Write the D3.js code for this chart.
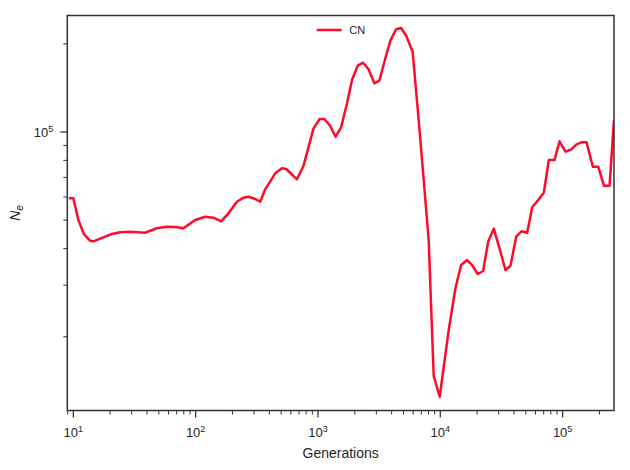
<!DOCTYPE html>
<html lang="en">
<head>
  <meta charset="UTF-8">
  <title>Ne over generations</title>
  <script src="https://d3js.org/d3.v7.min.js"></script>
  <style>
    body { margin: 0; background: #fff; }
    text { font-family: "Liberation Sans", Arial, sans-serif; fill: #262626; }
  </style>
</head>
<body>
  <div id="chart"></div>

  <script>
    // generations (x) and effective population size (y)
    const generations = [9.2, 10, 11.0, 12.2, 13.7, 14.6, 17.6, 20.6, 24.1, 29.1, 38.6, 48.1, 58.1, 68.0, 79.5,
      99.1, 119.6, 139.9, 161.7, 185.5, 217.4, 246.1, 270.5, 306.9, 337.2, 370.6, 447.3, 507.6, 550.4, 673.2,
      762.4, 920.4, 1031, 1126, 1261, 1393, 1543, 1728, 1898, 2110, 2335, 2595, 2889, 3176, 3554,
      3907, 4347, 4778, 5279, 5943, 6656, 7317, 8035, 8831, 9888, 11720, 13290, 14800, 16570, 18200,
      20240, 22400, 24610, 27350, 30630, 34100, 37470, 41730, 46100, 51320, 56390, 63150, 70200, 77120, 85860,
      94340, 105600, 117600, 129900, 142800, 156900, 176700, 195600, 217400, 241900, 263000];
    const neCN = [59400, 59400, 50100, 44860, 42560, 42360, 43720, 44860, 45460, 45670, 45310, 46930, 47520, 47410, 46930,
      50100, 51400, 51000, 49580, 52780, 57830, 59690, 60150, 59070, 57830, 63740, 72280, 75180, 74770, 68970,
      76740, 102950, 110770, 110770, 104830, 96370, 103440, 125300, 150500, 168400, 172400, 163700, 146600, 149600, 178500,
      205000, 224100, 226500, 212700, 188000, 109900, 68590, 42800, 14700, 12490, 21100, 29280, 35160, 36570, 35160,
      32760, 33550, 42240, 46770, 39780, 33810, 34970, 43930, 45830, 45310, 55340, 58610, 62070, 80250, 80250,
      92950, 85670, 87300, 90780, 92220, 92220, 76130, 76130, 65580, 65580, 109900];

    const xDomain = [8.93, 2.63e5];
    const yDomain = [11210, 249800];
    const xMajor = [10, 100, 1000, 10000, 100000];
    const xMajorExp = ["1", "2", "3", "4", "5"];
    const yMajor = [100000];
    const yMajorExp = ["5"];

    const margin = {top: 15.5, right: 16, bottom: 59.5, left: 67.3},
          width = 630 - margin.left - margin.right,
          height = 470 - margin.top - margin.bottom;

    const svg = d3.select("#chart")
                  .append("svg")
                  .attr("width", 630)
                  .attr("height", 470)
                  .append("g")
                  .attr("transform", `translate(${margin.left},${margin.top})`);

    const x = d3.scaleLog().domain(xDomain).range([0, width]);
    const y = d3.scaleLog().domain(yDomain).range([height, 0]);

    // minor ticks: 2..9 of every decade within the domain
    const minorTicks = (dom) => {
      const out = [];
      for (let p = Math.floor(Math.log10(dom[0])); p <= Math.ceil(Math.log10(dom[1])); p++) {
        for (let k = 2; k <= 9; k++) {
          const v = k * Math.pow(10, p);
          if (v >= dom[0] && v <= dom[1]) out.push(v);
        }
      }
      return out;
    };

    const tickColor = "#333";

    // x axis ticks
    const xAxisG = svg.append("g").attr("transform", `translate(0,${height})`);
    xAxisG.selectAll(".xminor").data(minorTicks(xDomain)).enter().append("line")
      .attr("x1", d => x(d)).attr("x2", d => x(d))
      .attr("y1", 0).attr("y2", 4)
      .attr("stroke", tickColor).attr("stroke-width", 1);
    xAxisG.selectAll(".xmajor").data(xMajor).enter().append("line")
      .attr("x1", d => x(d)).attr("x2", d => x(d))
      .attr("y1", 0).attr("y2", 7)
      .attr("stroke", tickColor).attr("stroke-width", 1.25);
    const xLab = xAxisG.selectAll(".xlab").data(xMajor).enter().append("text")
      .attr("x", d => x(d)).attr("y", 26)
      .attr("text-anchor", "middle")
      .style("font-size", "13px");
    xLab.append("tspan").text("10");
    xLab.append("tspan").attr("dy", "-5").style("font-size", "9px").text((d, i) => xMajorExp[i]);

    // y axis ticks
    const yAxisG = svg.append("g");
    yAxisG.selectAll(".yminor").data(minorTicks(yDomain)).enter().append("line")
      .attr("x1", -4).attr("x2", 0)
      .attr("y1", d => y(d)).attr("y2", d => y(d))
      .attr("stroke", tickColor).attr("stroke-width", 1);
    yAxisG.selectAll(".ymajor").data(yMajor).enter().append("line")
      .attr("x1", -7).attr("x2", 0)
      .attr("y1", d => y(d)).attr("y2", d => y(d))
      .attr("stroke", tickColor).attr("stroke-width", 1.25);
    const yLab = yAxisG.selectAll(".ylab").data(yMajor).enter().append("text")
      .attr("x", -22).attr("y", d => y(d) + 5)
      .attr("text-anchor", "end")
      .style("font-size", "13px");
    yLab.append("tspan").text("10");
    yLab.append("tspan").attr("dy", "-5").style("font-size", "9px").text((d, i) => yMajorExp[i]);
    yLab.attr("x", -14);

    // the line
    const pts = generations.map((g, i) => [g, neCN[i]]);
    svg.append("defs").append("clipPath").attr("id", "clip")
      .append("rect").attr("width", width).attr("height", height);
    svg.append("path")
      .datum(pts)
      .attr("clip-path", "url(#clip)")
      .attr("fill", "none")
      .attr("stroke", "#ff0a2a")
      .attr("stroke-width", 2.5)
      .attr("stroke-linejoin", "round")
      .attr("d", d3.line().x(d => x(d[0])).y(d => y(d[1])));

    // frame
    svg.append("rect")
      .attr("width", width).attr("height", height)
      .attr("fill", "none").attr("stroke", tickColor).attr("stroke-width", 1.5);

    // axis labels
    svg.append("text")
      .attr("x", width / 2).attr("y", height + 47)
      .attr("text-anchor", "middle")
      .style("font-size", "14px")
      .text("Generations");

    const yl = svg.append("text")
      .attr("transform", `translate(${-47},${height / 2}) rotate(-90)`)
      .attr("text-anchor", "middle")
      .style("font-size", "14px")
      .style("font-style", "italic");
    yl.append("tspan").text("N");
    yl.append("tspan").attr("dy", "3").style("font-size", "10px").text("e");

    // legend
    const leg = svg.append("g").attr("transform", `translate(${316.7 - margin.left},${30 - margin.top})`);
    leg.append("line").attr("x1", 0).attr("x2", 25).attr("y1", 0).attr("y2", 0)
      .attr("stroke", "#ff0a2a").attr("stroke-width", 2.5);
    leg.append("text").attr("x", 32.5).attr("y", 4)
      .style("font-size", "11px").text("CN");
  </script>
</body>
</html>
